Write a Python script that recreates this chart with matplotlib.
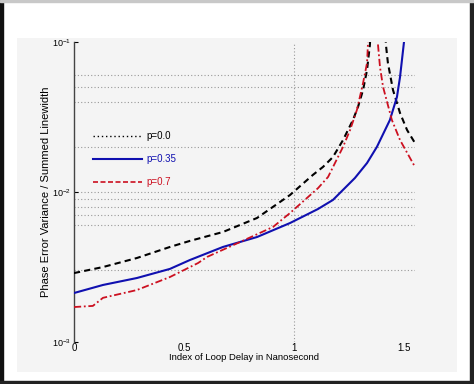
import matplotlib
matplotlib.use("Agg")
import matplotlib.pyplot as plt
from matplotlib.lines import Line2D
from matplotlib.patches import Rectangle

plt.rcParams['font.family'] = ['Liberation Sans', 'DejaVu Sans']

# p = 0.0 (black dashed), two branches around the pole
x_p00_left = [0.0, 0.132, 0.286, 0.436, 0.527, 0.677, 0.832, 0.982, 1.086, 1.132, 1.177, 1.223,
              1.268, 1.291, 1.314, 1.332, 1.345, 1.352]
y_p00_left = [2.88e-3, 3.16e-3, 3.63e-3, 4.30e-3, 4.72e-3, 5.41e-3, 6.71e-3, 9.55e-3, 1.30e-2, 1.47e-2,
              1.71e-2, 2.22e-2, 3.02e-2, 3.69e-2, 4.79e-2, 6.5e-2, 9.55e-2, 0.15]
x_p00_right = [1.412, 1.418, 1.427, 1.45, 1.482, 1.514, 1.55]
y_p00_right = [0.15, 9.55e-2, 7.24e-2, 4.79e-2, 3.36e-2, 2.59e-2, 2.12e-2]

# p = 0.35 (blue solid)
x_p035 = [0.0, 0.132, 0.286, 0.436, 0.527, 0.677, 0.832, 0.982, 1.109, 1.177, 1.277, 1.332, 1.377,
          1.436, 1.468, 1.482, 1.5]
y_p035 = [2.12e-3, 2.40e-3, 2.67e-3, 3.07e-3, 3.52e-3, 4.30e-3, 5.01e-3, 6.21e-3, 7.70e-3, 8.85e-3,
          1.24e-2, 1.56e-2, 2.0e-2, 3.02e-2, 4.30e-2, 5.84e-2, 0.1]

# p = 0.7 (red dash-dot)
x_p07_left = [0.0, 0.086, 0.132, 0.286, 0.436, 0.564, 0.605, 0.755, 0.905, 0.982, 1.109, 1.155, 1.223,
              1.255, 1.286, 1.314, 1.332, 1.336, 1.342]
y_p07_left = [1.71e-3, 1.74e-3, 1.97e-3, 2.22e-3, 2.71e-3, 3.36e-3, 3.69e-3, 4.64e-3, 5.85e-3, 7.24e-3,
              1.06e-2, 1.26e-2, 2.0e-2, 2.59e-2, 3.52e-2, 5.33e-2, 7.24e-2, 9.55e-2, 0.15]
x_p07_right = [1.377, 1.382, 1.391, 1.405, 1.445, 1.482, 1.55]
y_p07_right = [0.15, 9.55e-2, 6.8e-2, 5.01e-2, 3.02e-2, 2.22e-2, 1.47e-2]

labels = ["p=0.0", "p=0.35", "p=0.7"]
grid_y = [2e-2, 4e-2, 5e-2, 6e-2, 1e-2, 9e-3, 8e-3, 7e-3, 6e-3, 3e-3]

panel = "#f4f4f4"

fig = plt.figure(figsize=(4.74, 3.84), dpi=100, facecolor="white")

# grey panel and dark frame of the screenshot
fig.patches.append(Rectangle((0.036, 0.031), 0.928, 0.87, transform=fig.transFigure,
                             facecolor=panel, edgecolor="none", zorder=-2))
fig.patches.append(Rectangle((0, 0), 0.007, 1, transform=fig.transFigure, color="#111111", zorder=-1))
fig.patches.append(Rectangle((0, 0), 1, 0.008, transform=fig.transFigure, color="#222222", zorder=-1))
fig.patches.append(Rectangle((0.991, 0), 0.009, 1, transform=fig.transFigure, color="#222222", zorder=-1))
fig.patches.append(Rectangle((0, 0.994), 1, 0.006, transform=fig.transFigure, color="#c8c8c8", zorder=-1))

ax = fig.add_axes([0.156, 0.1094, 0.7195, 0.7812])
ax.set_zorder(2)
ax.set_facecolor(panel)
ax.set_yscale("log")
ax.set_xlim(0, 1.55)
ax.set_ylim(1e-3, 1e-1)

for gy in grid_y:
    ax.axhline(gy, color="#999999", linestyle=(0, (1, 2)), linewidth=0.8, zorder=1)
ax.axvline(1.0, color="#999999", linestyle=(0, (1, 2)), linewidth=0.8, zorder=1)

ax.plot(x_p00_left, y_p00_left, color="black", linestyle=(0, (3, 2)), linewidth=1.5, zorder=3)
ax.plot(x_p00_right, y_p00_right, color="black", linestyle=(0, (3, 2)), linewidth=1.5, zorder=3)
ax.plot(x_p035, y_p035, color="#1010b0", linestyle="-", linewidth=1.5, zorder=3)
ax.plot(x_p07_left, y_p07_left, color="#cc1020", linestyle=(0, (4, 1.5, 1, 1.5)), linewidth=1.3, zorder=3)
ax.plot(x_p07_right, y_p07_right, color="#cc1020", linestyle=(0, (4, 1.5, 1, 1.5)), linewidth=1.3, zorder=3)

handles = [Line2D([], [], color="black", linestyle=(0, (1, 2)), linewidth=1.0),
           Line2D([], [], color="#1010b0", linestyle="-", linewidth=1.5),
           Line2D([], [], color="#cc1020", linestyle=(0, (3, 1.5)), linewidth=1.2)]
leg = ax.legend(handles, labels, loc="upper left", bbox_to_anchor=(0.056, 0.703),
                frameon=False, fontsize=7, handlelength=5.0, handletextpad=0.45,
                labelspacing=1.35, borderpad=0, borderaxespad=0)
for txt, c in zip(leg.get_texts(), ["black", "#1010b0", "#cc1020"]):
    txt.set_color(c)

for side in ["top", "right", "bottom"]:
    ax.spines[side].set_visible(False)
ax.spines["left"].set_color("#444444")
ax.spines["left"].set_linewidth(1.0)

ax.set_xticks([0, 0.5, 1, 1.5])
ax.set_xticklabels(["0", "0.5", "1", "1.5"])
ax.tick_params(axis="x", length=0, labelsize=7, pad=1)
ax.tick_params(axis="y", which="major", direction="in", length=3, labelsize=6.5, pad=2)
ax.tick_params(axis="y", which="minor", length=0)

ax.set_xlabel("Index of Loop Delay in Nanosecond", fontsize=6.8, labelpad=0)
ax.set_ylabel("Phase Error Variance / Summed Linewidth", fontsize=8, labelpad=1)

fig.savefig("out.png", dpi=100, facecolor="white")
